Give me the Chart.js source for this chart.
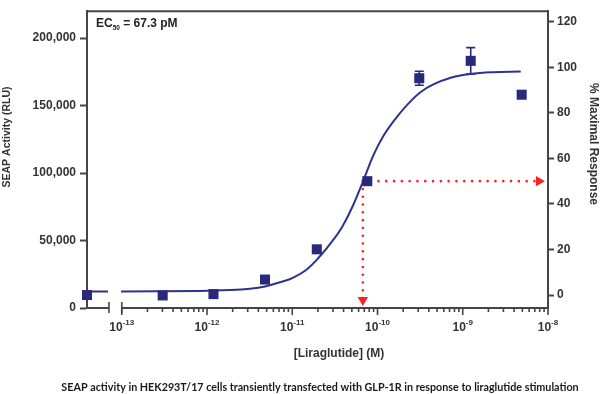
<!DOCTYPE html>
<html>
<head>
<meta charset="utf-8">
<script src="https://cdn.jsdelivr.net/npm/chart.js@4"></script>
<style>
  html, body { margin: 0; padding: 0; background: #ffffff; }
  #wrap { width: 600px; height: 394px; }
</style>
</head>
<body>
<div id="wrap"><canvas id="c" width="600" height="394"></canvas></div>
<script>
// ---- data ----
const doses = [3.91e-14, 3.02e-13, 1.19e-12, 4.79e-12, 1.94e-11, 7.59e-11, 3.09e-10, 1.24e-9, 4.91e-9];
const seap  = [9600, 9300, 10300, 21100, 43500, 94000, 170300, 183200, 158100];
const seapErr = [0, 0, 0, 0, 0, 0, 5200, 9800, 0];

// fitted curve (null = axis break)
const curveX = [3.91e-14, 6.90e-14, 8.0e-14, 9.8e-14, 8.28e-13, 1.86e-12, 3.19e-12, 4.79e-12, 7.85e-12, 1.0e-11,
                1.44e-11, 2.06e-11, 2.95e-11, 3.86e-11, 5.05e-11, 6.81e-11, 8.93e-11, 1.17e-10, 1.53e-10, 2.20e-10,
                3.16e-10, 4.52e-10, 7.08e-10, 1.22e-9, 2.28e-9, 4.79e-9];
const curveY = [12200, 12200, null, 12200, 12600, 13300, 14300, 16000, 19800, 22200,
                28000, 37600, 49600, 60300, 74700, 94300, 113100, 127500, 138200, 150200,
                159800, 165700, 170500, 173400, 174800, 175300];

const ec50 = 6.73e-11;        // M
const halfMax = 50;           // % maximal response
const arrowEndX = 7.83e-9;    // end of horizontal guide
const arrowEndPct = -2.2;     // end of vertical guide

const xExponents = [-13, -12, -11, -10, -9, -8];
const minorMultipliers = [2, 3, 4, 5, 6, 7, 8, 9];
const breakStart = 7.08e-14, breakEnd = 1.0e-13;

const leftTicks = [0, 50000, 100000, 150000, 200000];
const rightTicks = [0, 20, 40, 60, 80, 100, 120];

const NAVY = '#28297a';
const CURVE = '#2e3190';
const RED = '#ff1f1f';
const AXIS = '#454545';
const LABEL = '#333333';
const FONT = '"Liberation Sans", Arial, Helvetica, sans-serif';

const errorBars = {
  id: 'errorBars',
  beforeDatasetsDraw(chart) {
    const {ctx, scales: {x, y}} = chart;
    ctx.save();
    ctx.strokeStyle = NAVY; ctx.lineWidth = 1.6;
    doses.forEach((d, i) => {
      if (!seapErr[i]) return;
      const px = x.getPixelForValue(d);
      const yt = y.getPixelForValue(seap[i] + seapErr[i]);
      const yb = y.getPixelForValue(seap[i] - seapErr[i]);
      ctx.beginPath();
      ctx.moveTo(px, yt); ctx.lineTo(px, yb);
      ctx.moveTo(px - 4.5, yt); ctx.lineTo(px + 4.5, yt);
      ctx.moveTo(px - 4.5, yb); ctx.lineTo(px + 4.5, yb);
      ctx.stroke();
    });
    ctx.restore();
  }
};

const decorations = {
  id: 'decorations',
  afterDraw(chart) {
    const {ctx, chartArea: a, scales: {x}} = chart;
    ctx.save();
    // frame top
    ctx.strokeStyle = AXIS; ctx.lineWidth = 2;
    ctx.beginPath(); ctx.moveTo(a.left - 1, a.top); ctx.lineTo(a.right + 1, a.top); ctx.stroke();
    // broken x axis
    const yb = a.bottom;
    const b0 = x.getPixelForValue(breakStart), b1 = x.getPixelForValue(breakEnd);
    ctx.beginPath();
    ctx.moveTo(a.left - 1, yb); ctx.lineTo(b0, yb);
    ctx.moveTo(b1, yb); ctx.lineTo(a.right + 1, yb);
    ctx.stroke();
    ctx.lineWidth = 1.6;
    ctx.beginPath();
    ctx.moveTo(b0, yb - 6); ctx.lineTo(b0, yb + 5);
    ctx.moveTo(b1, yb - 6); ctx.lineTo(b1, yb + 5);
    ctx.stroke();
    // ticks
    ctx.beginPath();
    xExponents.forEach((e, k) => {
      const p = x.getPixelForValue(Math.pow(10, e));
      ctx.moveTo(p, yb); ctx.lineTo(p, yb + 7);
      if (k < xExponents.length - 1) {
        minorMultipliers.forEach(m => {
          const q = x.getPixelForValue(m * Math.pow(10, e));
          ctx.moveTo(q, yb); ctx.lineTo(q, yb + 4);
        });
      }
    });
    ctx.stroke();
    // tick labels 10^n
    ctx.fillStyle = LABEL;
    ctx.textBaseline = 'alphabetic';
    xExponents.forEach(e => {
      const p = x.getPixelForValue(Math.pow(10, e));
      ctx.font = 'bold 12px ' + FONT;
      const w1 = ctx.measureText('10').width;
      ctx.font = 'bold 8px ' + FONT;
      const sup = String(e);
      const w2 = ctx.measureText(sup).width;
      const s = p - (w1 + w2) / 2;
      ctx.font = 'bold 12px ' + FONT;
      ctx.fillText('10', s, 331);
      ctx.font = 'bold 8px ' + FONT;
      ctx.fillText(sup, s + w1, 325);
    });
    // axis titles
    ctx.font = 'bold 12px ' + FONT;
    ctx.textAlign = 'center'; ctx.textBaseline = 'middle';
    ctx.fillText('[Liraglutide] (M)', 339, 354);
    ctx.save();
    ctx.translate(7, 137); ctx.rotate(-Math.PI / 2);
    ctx.font = 'bold 10.5px ' + FONT;
    ctx.fillText('SEAP Activity (RLU)', 0, 0);
    ctx.restore();
    ctx.save();
    ctx.translate(593, 144); ctx.rotate(Math.PI / 2);
    ctx.font = 'bold 12px ' + FONT;
    ctx.fillText('% Maximal Response', 0, 0);
    ctx.restore();
    // EC50 label
    ctx.textAlign = 'left'; ctx.textBaseline = 'alphabetic';
    ctx.fillStyle = '#222';
    let tx = 96;
    ctx.font = 'bold 12px ' + FONT;
    ctx.fillText('EC', tx, 27); tx += ctx.measureText('EC').width;
    ctx.font = 'bold 6.5px ' + FONT;
    ctx.fillText('50', tx, 29.5); tx += ctx.measureText('50').width;
    ctx.font = 'bold 12px ' + FONT;
    ctx.fillText(' = 67.3 pM', tx, 27);
    // caption
    ctx.fillStyle = '#1a1a1a';
    ctx.textAlign = 'center';
    ctx.font = 'bold 10.75px Lato, "Open Sans", sans-serif';
    ctx.fillText('SEAP activity in HEK293T/17 cells transiently transfected with GLP-1R in response to liraglutide stimulation', 320, 391);
    ctx.restore();
  }
};

new Chart(document.getElementById('c'), {
  type: 'scatter',
  data: {
    datasets: [
      {
        label: 'SEAP',
        data: doses.map((d, i) => ({x: d, y: seap[i]})),
        yAxisID: 'y',
        pointStyle: 'rect',
        pointRadius: 7.1,
        pointBorderWidth: 0,
        backgroundColor: NAVY,
        borderColor: NAVY,
        clip: false,
        order: 0
      },
      {
        type: 'line',
        label: 'fit',
        data: curveX.map((d, i) => ({x: d, y: curveY[i]})),
        yAxisID: 'y',
        borderColor: CURVE,
        borderWidth: 2,
        pointRadius: 0,
        tension: 0.4,
        spanGaps: false,
        fill: false,
        order: 1
      },
      {
        type: 'line',
        label: 'h',
        data: [{x: ec50, y: halfMax}, {x: arrowEndX, y: halfMax}],
        yAxisID: 'y2',
        borderColor: RED,
        borderWidth: 2.6,
        borderDash: [0, 7.8],
        borderCapStyle: 'round',
        pointStyle: 'triangle',
        pointRadius: [0, 6],
        pointRotation: [0, 90],
        pointBorderWidth: 0,
        backgroundColor: RED,
        fill: false,
        clip: false,
        order: 2
      },
      {
        type: 'line',
        label: 'v',
        data: [{x: ec50, y: halfMax}, {x: ec50, y: arrowEndPct}],
        yAxisID: 'y2',
        borderColor: RED,
        borderWidth: 2.6,
        borderDash: [0, 7.8],
        borderCapStyle: 'round',
        pointStyle: 'triangle',
        pointRadius: [0, 6],
        pointRotation: [0, 180],
        pointBorderWidth: 0,
        backgroundColor: RED,
        fill: false,
        clip: false,
        order: 2
      }
    ]
  },
  options: {
    responsive: false,
    animation: false,
    devicePixelRatio: 1,
    layout: { padding: { top: 1, left: 0, right: 0, bottom: 0 } },
    plugins: { legend: { display: false }, tooltip: { enabled: false }, title: { display: false } },
    scales: {
      x: {
        type: 'logarithmic',
        min: 3.91e-14,
        max: 1e-8,
        grid: { display: false },
        border: { display: false },
        ticks: { display: false },
        afterFit: s => { s.height = 86; }
      },
      y: {
        position: 'left',
        min: 0,
        max: 220000,
        afterBuildTicks: s => { s.ticks = leftTicks.map(v => ({value: v})); },
        ticks: {
          color: LABEL,
          padding: 4,
          font: { family: FONT, size: 12, weight: 'bold' },
          callback: v => v.toLocaleString('en-US')
        },
        grid: { drawOnChartArea: false, drawTicks: true, tickLength: 7, tickColor: AXIS, tickWidth: 2 },
        border: { display: true, color: AXIS, width: 2 },
        afterFit: s => { s.width = 87; }
      },
      y2: {
        position: 'right',
        min: -5.7,
        max: 124.6,
        afterBuildTicks: s => { s.ticks = rightTicks.map(v => ({value: v})); },
        ticks: {
          color: LABEL,
          padding: 3,
          font: { family: FONT, size: 12, weight: 'bold' }
        },
        grid: { drawOnChartArea: false, drawTicks: true, tickLength: 6, tickColor: AXIS, tickWidth: 2 },
        border: { display: true, color: AXIS, width: 2 },
        afterFit: s => { s.width = 52; }
      }
    }
  },
  plugins: [errorBars, decorations]
});
</script>
</body>
</html>
